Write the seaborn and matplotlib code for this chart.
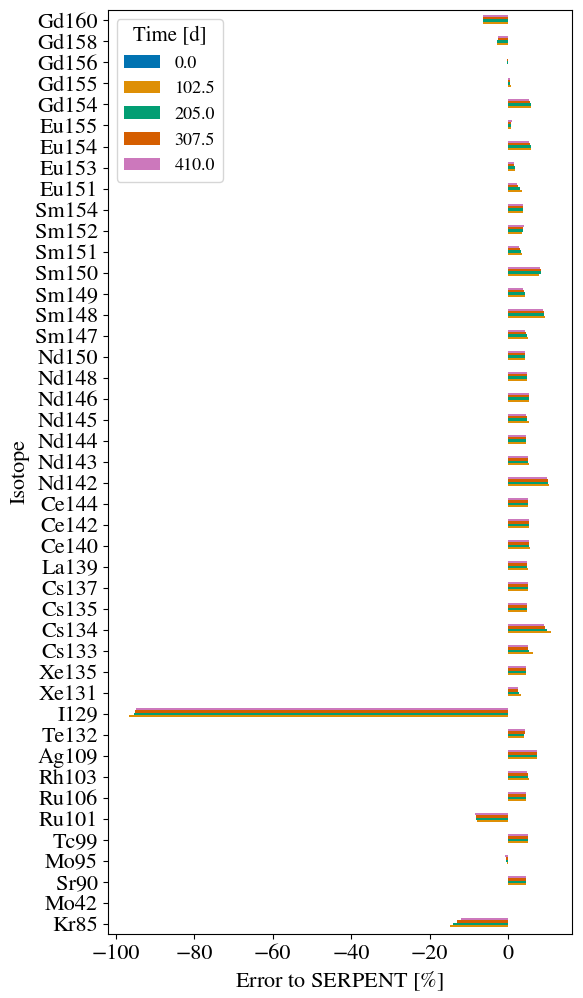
import pandas as pd
import matplotlib
matplotlib.use("Agg")
import matplotlib.pyplot as plt
import seaborn as sns

# Изотопы снизу вверх
isotopes = ["Kr85", "Mo42", "Sr90", "Mo95", "Tc99", "Ru101", "Ru106", "Rh103", "Ag109",
            "Te132", "I129", "Xe131", "Xe135", "Cs133", "Cs134", "Cs135", "Cs137", "La139",
            "Ce140", "Ce142", "Ce144", "Nd142", "Nd143", "Nd144", "Nd145", "Nd146", "Nd148",
            "Nd150", "Sm147", "Sm148", "Sm149", "Sm150", "Sm151", "Sm152", "Sm154", "Eu151",
            "Eu153", "Eu154", "Eu155", "Gd154", "Gd155", "Gd156", "Gd158", "Gd160"]

times = ["0.0", "102.5", "205.0", "307.5", "410.0"]

err_t0 = [0, 0, 0, 0, 0, 0, 0, 0, 0, 0, 0, 0, 0, 0, 0, 0, 0, 0, 0, 0, 0, 0,
          0, 0, 0, 0, 0, 0, 0, 0, 0, 0, 0, 0, 0, 0, 0, 0, 0, 0, 0, 0, 0, 0]
err_t1 = [-14.8, 0, 4.6, -0.25, 5.1, -7.9, 4.6, 5.35, 7.4, 4.1, -96.7, 3.3, 4.6, 6.35,
          10.95, 4.85, 5.1, 5.1, 5.6, 5.35, 5.1, 10.45, 5.35, 4.6, 5.35, 5.35, 4.85, 4.35,
          5.1, 9.4, 4.35, 7.9, 3.55, 3.55, 3.8, 3.55, 1.8, 5.85, 0.75, 5.85, 0.75, -0.05,
          -2.8, -6.4]
err_t2 = [-14.0, 0, 4.6, -0.5, 5.1, -8.15, 4.6, 5.1, 7.4, 4.1, -95.4, 2.8, 4.6, 5.35,
          9.9, 4.85, 5.1, 4.85, 5.35, 5.35, 5.1, 10.2, 5.1, 4.6, 4.85, 5.35, 4.85, 4.35,
          4.85, 9.15, 4.35, 8.4, 3.3, 3.8, 3.8, 3.05, 1.8, 5.85, 0.75, 5.85, 0.5, -0.25,
          -2.8, -6.4]
err_t3 = [-13.0, 0, 4.6, -0.5, 5.1, -8.15, 4.6, 5.1, 7.4, 4.35, -95.2, 2.55, 4.6, 5.1,
          9.4, 4.85, 5.1, 4.85, 5.35, 5.35, 5.1, 10.2, 5.1, 4.6, 4.85, 5.35, 4.85, 4.35,
          4.6, 9.15, 4.1, 8.4, 3.05, 3.8, 3.8, 2.55, 1.55, 5.6, 0.75, 5.6, 0.5, -0.2,
          -2.55, -6.4]
err_t4 = [-12.0, 0, 4.6, -0.75, 5.1, -8.4, 4.6, 4.85, 7.4, 4.35, -94.9, 2.55, 4.6, 5.1,
          9.15, 4.85, 5.1, 4.85, 5.35, 5.35, 5.1, 9.9, 5.1, 4.6, 4.6, 5.35, 4.85, 4.35,
          4.35, 8.9, 3.8, 8.15, 2.8, 4.1, 3.8, 2.3, 1.55, 5.35, 1.0, 5.35, 0.5, -0.05,
          -2.55, -6.4]

# Таблица в длинном формате для seaborn
wide = pd.DataFrame({"Isotope": isotopes, times[0]: err_t0, times[1]: err_t1,
                     times[2]: err_t2, times[3]: err_t3, times[4]: err_t4})
data = wide.melt(id_vars="Isotope", var_name="Time [d]", value_name="Error")

plt.rcParams["font.family"] = "STIXGeneral"
plt.rcParams["mathtext.fontset"] = "stix"

fig, ax = plt.subplots(figsize=(5.83, 9.98), dpi=100)
sns.barplot(data=data, y="Isotope", x="Error", hue="Time [d]", order=isotopes,
            hue_order=times, orient="h", palette="colorblind", width=0.5,
            saturation=1, linewidth=0, errorbar=None, ax=ax)
ax.invert_yaxis()  # Kr85 внизу, как в исходном графике
ax.margins(x=0.05)

ax.set_xlabel(r"Error to SERPENT [$\%$]", fontsize=16)
ax.set_ylabel("Isotope", fontsize=16)
ax.tick_params(axis="both", labelsize=16)
ax.legend(title="Time [d]", loc="upper left", fontsize=13, title_fontsize=15)

plt.subplots_adjust(left=0.185, right=0.981, top=0.99, bottom=0.064)
plt.savefig("out.png", dpi=100)
